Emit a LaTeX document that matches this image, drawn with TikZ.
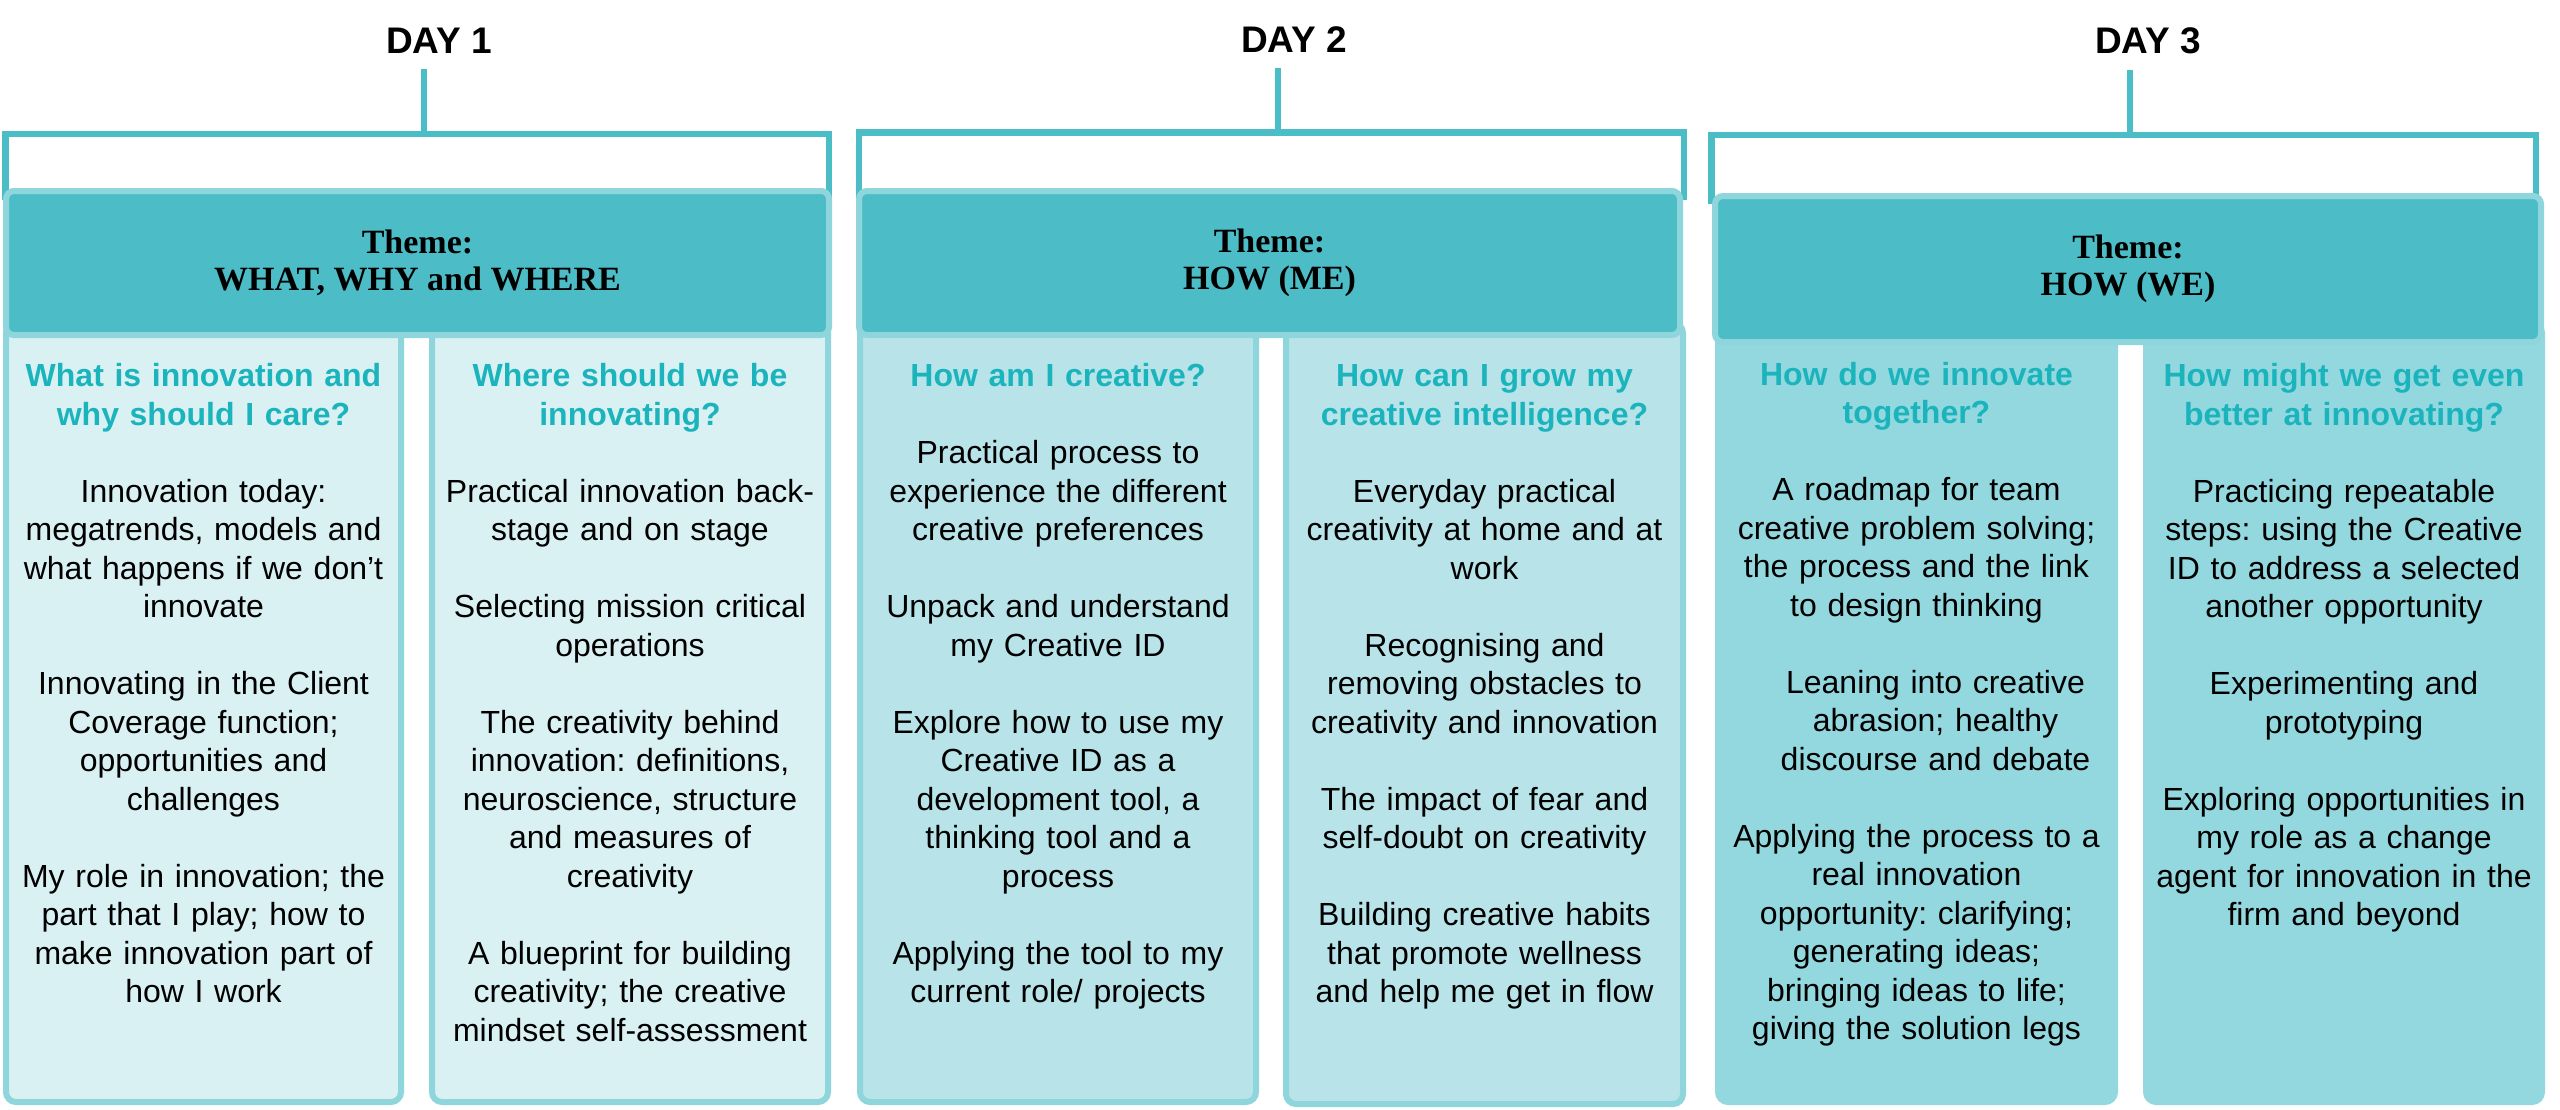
\documentclass[tikz,border=0pt]{standalone}
\usepackage{fontspec}
\setmainfont{Liberation Sans}
\newfontfamily\themefont{Liberation Serif}
\definecolor{brk}{HTML}{4ABDC6}
\definecolor{themefill}{HTML}{4CBDC6}
\definecolor{lightborder}{HTML}{8ED6DB}
\definecolor{dayonefill}{HTML}{DAF1F3}
\definecolor{daytwofill}{HTML}{B8E4E9}
\definecolor{daythreefill}{HTML}{93D8DE}
\definecolor{head}{HTML}{1BB4BD}
\newcommand\fl{\rule{0pt}{28pt}}
\newcommand\hd{\bfseries\color{head}}
\newcommand\pg{\\[38.5pt]}
\frenchspacing
\begin{document}
\begin{tikzpicture}[x=1pt,y=-1pt,
  bracket/.style={draw=brk,line width=6.5pt,line join=miter},
  daylabel/.style={font=\bfseries\fontsize{37}{40}\selectfont,inner sep=0},
  colbox/.style={draw=lightborder,line width=6pt,rounded corners=10pt,inner sep=0},
  themebox/.style={draw=lightborder,fill=themefill,line width=6pt,rounded corners=8pt,inner sep=0,
    align=center,font=\themefont\bfseries\fontsize{34}{37}\selectfont},
  coltext/.style={anchor=north,inner sep=0,text width=420pt,align=center,
    font=\fontsize{32}{38.5}\selectfont\frenchspacing}]
\useasboundingbox (0,0) rectangle (2560,1109);
\fill[white] (0,0) rectangle (2560,1109);

% day labels
\node[daylabel] (day1) at (439,41) {DAY 1};
\node[daylabel] (day2) at (1294,40) {DAY 2};
\node[daylabel] (day3) at (2148,41) {DAY 3};

% stems and brackets
\coordinate (s1) at (424,69);
\coordinate (s2) at (1278,68);
\coordinate (s3) at (2130,70);
\draw[bracket] (s1) -- (424,134);
\draw[bracket] (5.5,200) -- (5.5,134) -- (829,134) -- (829,200);
\draw[bracket] (s2) -- (1278,132.5);
\draw[bracket] (859,200) -- (859,132.5) -- (1684,132.5) -- (1684,200);
\draw[bracket] (s3) -- (2130,135);
\draw[bracket] (1711.5,204) -- (1711.5,135) -- (2536,135) -- (2536,204);

% column boxes
\node[colbox,fill=dayonefill,minimum width=395pt,minimum height=779pt] (c11) at (203.5,712.5) {};
\node[colbox,fill=dayonefill,minimum width=396pt,minimum height=779pt] (c12) at (630,712.5) {};
\node[colbox,fill=daytwofill,minimum width=396pt,minimum height=779pt] (c21) at (1058,712.5) {};
\node[colbox,fill=daytwofill,minimum width=397pt,minimum height=781pt] (c22) at (1484.5,713.5) {};
\node[colbox,draw=daythreefill,fill=daythreefill,minimum width=397pt,minimum height=779pt] (c31) at (1916.5,712.5) {};
\node[colbox,draw=daythreefill,fill=daythreefill,minimum width=396pt,minimum height=779pt] (c32) at (2344,712.5) {};

% theme boxes
\node[themebox,minimum width=823pt,minimum height=144pt] (th1) at (417.5,263) {Theme:\\WHAT, WHY and WHERE};
\node[themebox,minimum width=821pt,minimum height=144pt] (th2) at (1269.5,263) {Theme:\\HOW (ME)};
\node[themebox,minimum width=826pt,minimum height=146pt] (th3) at (2128,269) {Theme:\\HOW (WE)};

% column texts
\node[coltext] (t11) at (203.5,358.5) {\fl{\hd What is innovation and\\why should I care?}\pg
Innovation today:\\megatrends, models and\\what happens if we don’t\\innovate\pg
Innovating in the Client\\Coverage function;\\opportunities and\\challenges\pg
My role in innovation; the\\part that I play; how to\\make innovation part of\\how I work};

\node[coltext] (t12) at (630,358.5) {\fl{\hd Where should we be\\innovating?}\pg
Practical innovation back-\\stage and on stage\pg
Selecting mission critical\\operations\pg
The creativity behind\\innovation: definitions,\\neuroscience, structure\\and measures of\\creativity\pg
A blueprint for building\\creativity; the creative\\mindset self-assessment};

\node[coltext] (t21) at (1058,358.5) {\fl{\hd How am I creative?}\pg
Practical process to\\experience the different\\creative preferences\pg
Unpack and understand\\my Creative ID\pg
Explore how to use my\\Creative ID as a\\development tool, a\\thinking tool and a\\process\pg
Applying the tool to my\\current role/ projects};

\node[coltext] (t22) at (1484.5,358.5) {\fl{\hd How can I grow my\\creative intelligence?}\pg
Everyday practical\\creativity at home and at\\work\pg
Recognising and\\removing obstacles to\\creativity and innovation\pg
The impact of fear and\\self-doubt on creativity\pg
Building creative habits\\that promote wellness\\and help me get in flow};

\node[coltext] (t31) at (1916.5,357) {\fl{\hd How do we innovate\\together?}\pg
A roadmap for team\\creative problem solving;\\the process and the link\\to design thinking\pg
\hspace*{38pt}Leaning into creative\\\hspace*{38pt}abrasion; healthy\\\hspace*{38pt}discourse and debate\pg
Applying the process to a\\real innovation\\opportunity: clarifying;\\generating ideas;\\bringing ideas to life;\\giving the solution legs};

\node[coltext] (t32) at (2344,358.5) {\fl{\hd How might we get even\\better at innovating?}\pg
Practicing repeatable\\steps: using the Creative\\ID to address a selected\\another opportunity\pg
Experimenting and\\prototyping\pg
Exploring opportunities in\\my role as a change\\agent for innovation in the\\firm and beyond};
\end{tikzpicture}
\end{document}
